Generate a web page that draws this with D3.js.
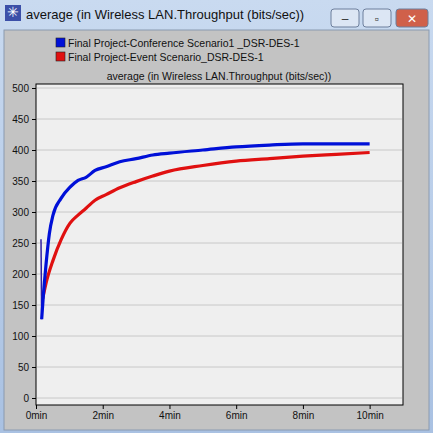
<!DOCTYPE html>
<html><head><meta charset="utf-8">
<script src="https://cdn.jsdelivr.net/npm/d3@7"></script>
<style>body{margin:0;background:#fff}svg{display:block;font-family:"Liberation Sans",Arial,sans-serif}</style>
</head><body><svg id="c" width="433" height="433"></svg>
<script>
// time in minutes, throughput values
let blueT = [0.15, 0.17, 0.22, 0.3, 0.4, 0.51, 0.75, 1.02, 1.26, 1.5, 1.77, 2.1, 2.51, 3.0, 3.5, 4.0, 5.0, 6.0, 7.0, 8.0, 9.0, 10.0];
let blueV = [256, 127, 165, 215, 265, 295, 322, 340, 351, 356, 367, 373, 381, 386, 392, 395, 400, 405, 408, 410, 410, 410];
let redT = [0.2, 0.3, 0.51, 0.75, 1.02, 1.26, 1.5, 1.77, 2.1, 2.51, 3.0, 3.5, 4.0, 5.0, 6.0, 7.0, 8.0, 9.0, 10.0];
let redV = [160, 185, 222, 255, 282, 295, 306, 319, 328, 339, 349, 358, 366, 375, 382, 386, 390, 393, 396];
let yTicks = d3.range(0, 501, 50);
let xTicks = [0, 2, 4, 6, 8, 10];
let legend = ["Final Project-Conference Scenario1 _DSR-DES-1", "Final Project-Event Scenario_DSR-DES-1"];
let colors = ["#0010d8", "#e01010"];

let svg = d3.select("#c");
let defs = svg.append("defs");
let g1 = defs.append("linearGradient").attr("id", "tb").attr("x1", 0).attr("y1", 0).attr("x2", 0).attr("y2", 1);
g1.append("stop").attr("offset", 0).attr("stop-color", "#c9daf0");
g1.append("stop").attr("offset", 1).attr("stop-color", "#a9c1e2");

// window chrome
svg.append("rect").attr("width", 433).attr("height", 433).attr("fill", "url(#tb)");
svg.append("rect").attr("x", 4).attr("y", 30).attr("width", 425).attr("height", 400).attr("fill", "#c3c3c3").attr("stroke", "#8a9ab0");
svg.append("rect").attr("x", 5).attr("y", 5).attr("width", 16).attr("height", 16).attr("fill", "#3b4fa8");
svg.append("text").attr("x", 13).attr("y", 17).attr("text-anchor", "middle").attr("fill", "#fff").attr("font-size", 14).text("✳");
svg.append("text").attr("x", 26).attr("y", 19).attr("font-size", 13).attr("fill", "#111").text("average (in Wireless LAN.Throughput (bits/sec))");
[[331, "#dce6f4", "–"], [363, "#dce6f4", "▫"], [396, "#d0604a", "✕"]].forEach(b => {
  svg.append("rect").attr("x", b[0]).attr("y", 9).attr("width", b[0] === 396 ? 32 : 28).attr("height", 18).attr("rx", 3)
    .attr("fill", b[1]).attr("stroke", "#6d7f9c");
  svg.append("text").attr("x", b[0] + (b[0] === 396 ? 16 : 14)).attr("y", 23).attr("text-anchor", "middle")
    .attr("font-size", 12).attr("fill", b[0] === 396 ? "#fff" : "#333").text(b[2]);
});

// legend
legend.forEach((t, i) => {
  svg.append("rect").attr("x", 56).attr("y", 38 + i * 14).attr("width", 9).attr("height", 9).attr("fill", colors[i]).attr("stroke", "#222").attr("stroke-width", 0.6);
  svg.append("text").attr("x", 68).attr("y", 47 + i * 14).attr("font-size", 10.5).attr("fill", "#111").text(t);
});
svg.append("text").attr("x", 219).attr("y", 80).attr("text-anchor", "middle").attr("font-size", 10.5).attr("fill", "#111").text("average (in Wireless LAN.Throughput (bits/sec))");

let x = d3.scaleLinear().domain([0, 11]).range([36, 403]);
let y = d3.scaleLinear().domain([0, 500]).range([398, 88]);

svg.append("rect").attr("x", 36).attr("y", 84).attr("width", 367).attr("height", 321).attr("fill", "#efefef").attr("stroke", "#000");
svg.append("g").selectAll("line").data(yTicks).join("line")
  .attr("x1", 37).attr("x2", 402).attr("y1", d => y(d)).attr("y2", d => y(d)).attr("stroke", "#c8c8c8");

let ya = svg.append("g").attr("transform", "translate(36,0)")
  .call(d3.axisLeft(y).tickValues(yTicks).tickSize(4).tickFormat(d3.format("d")));
ya.select(".domain").remove();
ya.selectAll("text").attr("font-size", 10).attr("fill", "#111").attr("font-family", "Liberation Sans");
let xa = svg.append("g").attr("transform", "translate(0,405)")
  .call(d3.axisBottom(x).tickValues(xTicks).tickSize(4).tickFormat(d => d + "min"));
xa.select(".domain").remove();
xa.selectAll("text").attr("font-size", 10).attr("fill", "#111").attr("font-family", "Liberation Sans");

let line = d3.line().x(d => x(d[0])).y(d => y(d[1])).curve(d3.curveMonotoneX);
svg.append("path").attr("d", line(redT.map((t, i) => [t, redV[i]]))).attr("fill", "none").attr("stroke", colors[1]).attr("stroke-width", 3.2);
// thin spike at start, then thick curve
svg.append("path").attr("d", d3.line().x(d => x(d[0])).y(d => y(d[1]))(blueT.slice(0, 2).map((t, i) => [t, blueV[i]]))).attr("fill", "none").attr("stroke", "#3020a0").attr("stroke-width", 1.5);
svg.append("path").attr("d", line(blueT.slice(1).map((t, i) => [t, blueV[i + 1]]))).attr("fill", "none").attr("stroke", colors[0]).attr("stroke-width", 3.2);
</script></body></html>
